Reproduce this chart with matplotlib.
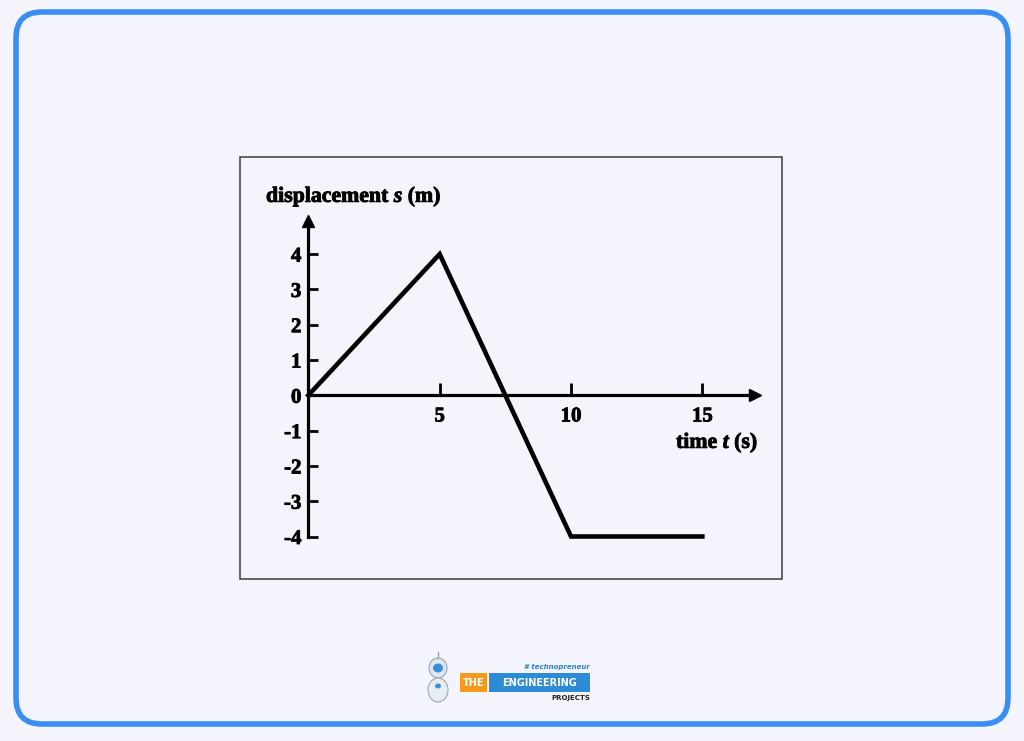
import matplotlib.pyplot as plt
from matplotlib.patches import FancyBboxPatch, Rectangle, Ellipse
import matplotlib.patheffects as pe

# data
time_s = [0, 5, 10, 15]
disp_m = [0, 4, -4, -4]
x_ticks = [5, 10, 15]
y_ticks = [-4, -3, -2, -1, 0, 1, 2, 3, 4]

plt.rcParams['font.family'] = ['Liberation Serif', 'DejaVu Serif']
plt.rcParams['mathtext.fontset'] = 'custom'
plt.rcParams['mathtext.it'] = 'Liberation Serif:bold:italic'
plt.rcParams['mathtext.rm'] = 'Liberation Serif:bold'

bg = '#f4f4fc'
W, H = 1024, 741
fig = plt.figure(figsize=(W / 100, H / 100), dpi=100, facecolor=bg)

# decoration layer in pixel coords
deco = fig.add_axes([0, 0, 1, 1])
deco.set_xlim(0, W)
deco.set_ylim(H, 0)
deco.axis('off')
deco.add_patch(FancyBboxPatch((16, 12), 992, 712, boxstyle="round,pad=0,rounding_size=26",
                              fc='none', ec='#3a8ef3', lw=4))
deco.add_patch(Rectangle((240, 157), 542, 422, fc='none', ec='#4a4a4a', lw=1.2))

# logo
deco.add_patch(Ellipse((438, 668), 18, 20, fc='#dfe6ee', ec='#9aa7b5', lw=0.8))
deco.add_patch(Ellipse((438, 668), 10, 9, fc='#3a8ee0', ec='none'))
deco.add_patch(Ellipse((438, 690), 20, 24, fc='#e8edf2', ec='#9aa7b5', lw=0.8))
deco.add_patch(Ellipse((438, 686), 6, 5, fc='#3a8ee0', ec='none'))
deco.plot([438, 438], [652, 658], color='#9aa7b5', lw=1)
deco.add_patch(Rectangle((460, 673), 27, 19, fc='#f39a1c', ec='none'))
deco.add_patch(Rectangle((489, 673), 101, 19, fc='#2d8bd6', ec='none'))
deco.text(473.5, 682.5, 'THE', color='white', fontsize=7, fontweight='bold',
          family='DejaVu Sans', ha='center', va='center')
deco.text(539.5, 682.5, 'ENGINEERING', color='white', fontsize=7, fontweight='bold',
          family='DejaVu Sans', ha='center', va='center')
deco.text(590, 667, '# technopreneur', color='#2d7fc8', fontsize=5, fontweight='bold',
          family='DejaVu Sans', style='italic', ha='right', va='center')
deco.text(590, 698, 'PROJECTS', color='#222222', fontsize=5, fontweight='bold',
          family='DejaVu Sans', ha='right', va='center')

# chart axes mapped so origin sits at (308, 395) px
x0, ux = 308.3, 26.27
y0, uy = 395.3, 35.3
ax = fig.add_axes([240 / W, 1 - 579 / H, 542 / W, 422 / H])
ax.set_facecolor('none')
ax.set_xlim((240 - x0) / ux, (782 - x0) / ux)
ax.set_ylim((y0 - 579) / uy, (y0 - 157) / uy)

ax.plot(time_s, disp_m, color='black', lw=3.3, solid_joinstyle='miter', zorder=3)

for side in ['top', 'right']:
    ax.spines[side].set_visible(False)
ax.spines['left'].set_position(('data', 0))
ax.spines['bottom'].set_position(('data', 0))
ax.spines['left'].set_bounds(-4, 4.9)
ax.spines['bottom'].set_bounds(0, 17.0)
for side in ['left', 'bottom']:
    ax.spines[side].set_linewidth(2.3)

ax.plot(0, 4.95, marker='^', ms=9, color='black', clip_on=False)
ax.plot(17.0, 0, marker='>', ms=9, color='black', clip_on=False)

bold = [pe.withStroke(linewidth=0.6, foreground='black')]
ax.set_xticks(x_ticks)
ax.set_yticks(y_ticks)
ax.set_xticklabels([str(v) for v in x_ticks])
ax.set_yticklabels([str(v) for v in y_ticks])
ax.tick_params(axis='x', direction='in', length=9, width=2, pad=8, labelsize=15)
ax.tick_params(axis='y', direction='in', length=7, width=2, pad=5, labelsize=15)
for lab in ax.get_xticklabels() + ax.get_yticklabels():
    lab.set_fontweight('bold')
    lab.set_path_effects(bold)

ax.text((266 - x0) / ux, (y0 - 197) / uy, 'displacement $s$ (m)', fontsize=15.7,
        fontweight='bold', ha='left', va='center', path_effects=bold)
ax.text((717 - x0) / ux, (y0 - 443) / uy, 'time $t$ (s)', fontsize=15.7,
        fontweight='bold', ha='center', va='center', path_effects=bold)

fig.savefig('out.png', dpi=100, facecolor=bg)
